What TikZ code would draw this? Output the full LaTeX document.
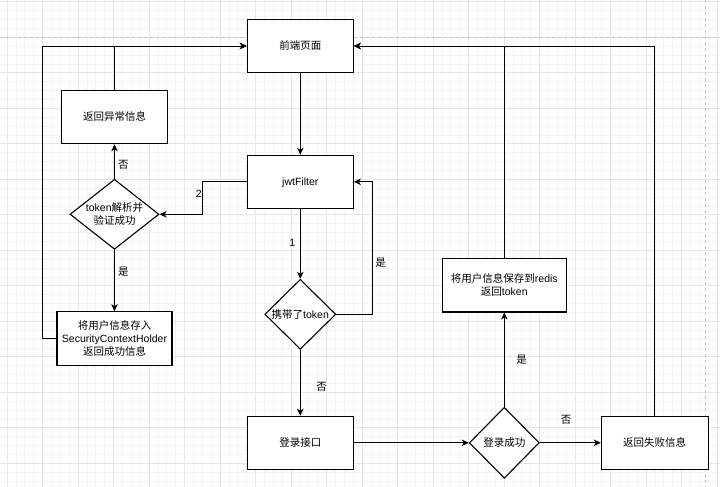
\documentclass[tikz,border=0pt]{standalone}
\usepackage{fontspec}
\setmainfont{Liberation Sans}
\newfontfamily\cjk{Noto Sans CJK SC}
\newcommand\zh[1]{{\cjk #1}}
\newcommand\dtxt[1]{\makebox[0pt]{\raisebox{-4pt}[0pt][0pt]{\begin{tabular}{@{}c@{}}#1\end{tabular}}}}
\usetikzlibrary{shapes.geometric,arrows.meta}
\definecolor{gminor}{HTML}{F3F3F3}
\definecolor{gmajor}{HTML}{E6E6E6}
\definecolor{gdash}{HTML}{C2C2C2}
\tikzset{
  base/.style={draw=black, line width=1.1pt, fill=white, inner sep=0pt, font=\fontsize{10.5}{12.8}\selectfont},
  procbox/.style={base, rectangle},
  decide/.style={base, diamond, aspect=1},
  arr/.style={line width=0.8pt, -{Stealth[length=7pt,width=6.5pt,inset=2pt]}},
  lbl/.style={inner sep=0pt, font=\fontsize{10.5}{12.8}\selectfont},
  minorline/.style={gminor, line width=0.7pt},
  majorline/.style={gmajor, line width=0.8pt},
  pageline/.style={gdash, line width=0.7pt, dash pattern=on 3pt off 3pt}
}
\begin{document}
\begin{tikzpicture}[x=1pt,y=-1pt]
\useasboundingbox (0,0) rectangle (720,487);
\fill[white] (0,0) rectangle (720,487);
% grid
\foreach \i in {1,...,81} {\draw[minorline] ({-1.875+8.875*\i},0) -- ++(0,487);}
\foreach \j in {0,...,54} {\draw[minorline] (0,{1.8+8.875*\j}) -- ++(720,0);}
\foreach \i in {0,...,20} {\draw[majorline] ({7+35.5*\i},0) -- ++(0,487);}
\foreach \j in {0,...,13} {\draw[majorline] (0,{1.8+35.5*\j}) -- ++(720,0);}
\draw[pageline] (0,37.3) -- (720,37.3);
\draw[pageline] (705.7,0) -- (705.7,487);

% nodes
\node[procbox, minimum width=106pt, minimum height=53.3pt] (fe) at (300.3,46) {\dtxt{\zh{前端页面}}};
\node[procbox, minimum width=106pt, minimum height=53.4pt] (err) at (114.5,117) {\dtxt{\zh{返回异常信息}}};
\node[procbox, minimum width=106pt, minimum height=53pt] (jwt) at (300.3,181.8) {\dtxt{jwtFilter}};
\node[decide, minimum width=89pt, minimum height=70pt] (tv) at (114.5,214.3) {\dtxt{token\zh{解析并}\\\zh{验证成功}}};
\node[procbox, minimum width=115pt, minimum height=53.6pt] (sch) at (114.5,338.5) {\dtxt{\zh{将用户信息存入}\\SecurityContextHolder\\\zh{返回成功信息}}};
\node[decide, minimum width=71pt, minimum height=70pt] (carry) at (300.3,314.3) {\dtxt{\zh{携带了}token}};
\node[procbox, minimum width=106pt, minimum height=53pt] (login) at (300.3,442.8) {\dtxt{\zh{登录接口}}};
\node[decide, minimum width=70pt, minimum height=71pt] (ok) at (504.3,442.8) {\dtxt{\zh{登录成功}}};
\node[procbox, minimum width=106.7pt, minimum height=53pt] (fail) at (654.7,442.8) {\dtxt{\zh{返回失败信息}}};
\node[procbox, minimum width=124pt, minimum height=53.3pt] (redis) at (504.3,285.3) {\dtxt{\zh{将用户信息保存到}redis\\\zh{返回}token}};

% connectors
\draw[arr] (fe) -- (jwt);
\draw[arr] (jwt.west) -- ++(-44,0) |- (tv.east);
\draw[arr] (jwt) -- (carry);
\draw[arr] (carry.east) -- ++(35.7,0) |- (jwt.east);
\draw[arr] (carry) -- (login);
\draw[arr] (login) -- (ok);
\draw[arr] (ok) -- (redis);
\draw[arr] (ok) -- (fail);
\draw[arr] (redis.north) |- (fe.east);
\draw[arr] (fail.north) |- (fe.east);
\draw[arr] (tv) -- (err);
\draw[arr] (tv) -- (sch);
\draw[arr] (err.north) |- (fe.west);
\draw[arr] (sch.west) -- ++(-14,0) |- (fe.west);

% labels
\node[lbl] (l2) at (198.7,194.3) {2};
\node[lbl] (l1) at (292.3,242.7) {1};
\node[lbl] (lyes1) at (380.7,262.7) {\zh{是}};
\node[lbl] (lno1) at (321.7,386.7) {\zh{否}};
\node[lbl] (lyes2) at (521.7,360) {\zh{是}};
\node[lbl] (lno2) at (566,420) {\zh{否}};
\node[lbl] (lno3) at (123.3,165) {\zh{否}};
\node[lbl] (lyes3) at (123.3,271.7) {\zh{是}};
\end{tikzpicture}
\end{document}
